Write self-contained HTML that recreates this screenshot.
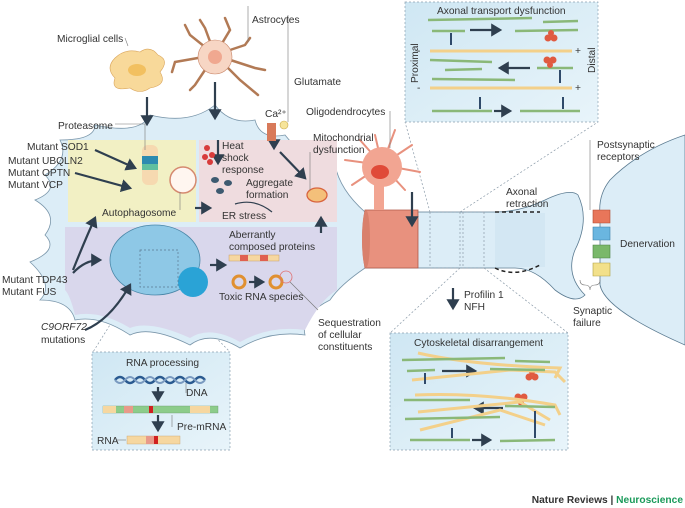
<!DOCTYPE html>
<html><head><meta charset="utf-8"><style>
body{margin:0;background:#fff}
svg{display:block}
text{font-family:"Liberation Sans",sans-serif;fill:#333;font-size:10.2px}
</style></head><body>
<svg width="685" height="508" viewBox="0 0 685 508">
<defs>
<marker id="ar" markerWidth="6" markerHeight="6" refX="4" refY="3" orient="auto" markerUnits="strokeWidth"><path d="M0,0 L5,3 L0,6 z" fill="#2f3f4f"/></marker>
<linearGradient id="bx" x1="0" y1="0" x2="1" y2="1"><stop offset="0" stop-color="#cfe7f3"/><stop offset="1" stop-color="#e8f4fa"/></linearGradient>
</defs>
<path d="M685,135 Q640,150 610,180 Q598,195 600,215 L600,285 Q605,310 685,345 Z" fill="#dcedf7" stroke="#5a7a90" stroke-width="0.8"/>
<rect x="360" y="212" width="200" height="56" fill="#dcedf7"/>
<line x1="360" y1="212" x2="495" y2="212" stroke="#5a7a90" stroke-width="0.8"/>
<line x1="360" y1="268" x2="495" y2="268" stroke="#5a7a90" stroke-width="0.8"/>
<path d="M495,212 Q520,212 545,200 Q570,188 578,195 Q590,220 575,250 Q565,275 585,295 Q575,305 555,290 Q535,268 515,268 L495,268" fill="#dcedf7" stroke="#5a7a90" stroke-width="0.8"/>
<rect x="495" y="213" width="50" height="54" fill="#d3e7f3"/>
<line x1="495" y1="212" x2="540" y2="212" stroke="#222" stroke-width="1.5" stroke-dasharray="4,3"/>
<path d="M495,268 Q515,278 540,265" fill="none" stroke="#222" stroke-width="1.5" stroke-dasharray="4,3"/>
<g stroke="#8a9aa8" stroke-width="0.7" stroke-dasharray="2,2" fill="none">
<line x1="430" y1="212" x2="430" y2="268"/><line x1="460" y1="212" x2="460" y2="268"/><line x1="463" y1="212" x2="463" y2="268"/><line x1="484" y1="212" x2="484" y2="268"/>
<line x1="430" y1="212" x2="484" y2="212"/><line x1="430" y1="268" x2="484" y2="268"/>
<line x1="430" y1="212" x2="405" y2="122"/><line x1="460" y1="212" x2="598" y2="122"/>
<line x1="460" y1="268" x2="390" y2="333"/><line x1="484" y1="268" x2="568" y2="333"/>
<line x1="135" y1="285" x2="93" y2="352"/><line x1="160" y1="280" x2="230" y2="352"/>
</g>
<path d="M365,212 Q340,190 335,165 Q300,155 285,135 Q260,140 255,120 Q230,125 215,105 Q190,125 150,115 Q140,135 95,125 Q95,140 60,140 Q70,160 45,175 Q60,190 35,200 Q60,215 45,235 Q60,250 30,262 Q55,285 40,300 Q70,300 75,320 Q100,315 130,335 Q150,325 190,345 Q210,330 240,348 Q270,330 305,335 Q300,315 330,300 Q340,285 365,268 Z" fill="#dcedf7" stroke="#7a96aa" stroke-width="0.8"/>
<rect x="68" y="140" width="128" height="82" fill="#f2f0c4"/>
<rect x="199" y="140" width="138" height="82" fill="#efdcdf"/>
<path d="M65,227 L337,227 L337,290 Q320,300 305,330 Q270,325 240,342 Q210,325 190,338 Q150,320 130,328 Q100,310 75,315 Q70,295 65,290 Z" fill="#d9d7ec"/>
<path d="M365,210 L418,210 L418,268 L365,268 Q360,240 365,210 Z" fill="#e8917e" stroke="#b05a48" stroke-width="0.8"/>
<ellipse cx="366" cy="239" rx="4" ry="29" fill="#d9806c"/>
<ellipse cx="155" cy="260" rx="45" ry="35" fill="#8ec8e6" stroke="#4a87a8" stroke-width="0.8"/>
<circle cx="193" cy="282" r="15" fill="#2aa3d6"/>
<rect x="140" y="250" width="38" height="37" fill="none" stroke="#5a7a90" stroke-width="0.7" stroke-dasharray="2,2"/>
<path d="M115,58 Q125,48 140,52 Q150,45 158,55 Q170,60 160,72 Q168,85 150,88 Q140,95 130,88 Q110,92 115,78 Q105,68 115,58 Z" fill="#f8d99a" stroke="#d9a45a" stroke-width="0.6"/>
<ellipse cx="137" cy="70" rx="9" ry="6" fill="#f2c060"/>
<g stroke="#b27a55" stroke-width="2.5" fill="none" stroke-linecap="round">
<path d="M215,55 L190,35 L185,25"/><path d="M215,55 L205,28 L200,20"/><path d="M215,55 L230,30 L225,18"/><path d="M215,55 L245,45 L250,38"/><path d="M215,55 L175,62 L172,72"/><path d="M215,55 L195,85 L190,90"/><path d="M215,55 L240,80 L258,95"/><path d="M215,55 L255,68 L265,70"/>
</g>
<circle cx="215" cy="57" r="17" fill="#f7d6c4" stroke="#c9876a" stroke-width="0.6"/>
<circle cx="215" cy="57" r="7" fill="#f0a890"/>
<g stroke="#e8917e" stroke-width="2" stroke-linecap="round">
<path d="M382,165 L360,140"/><path d="M382,165 L395,130"/><path d="M382,165 L412,145"/><path d="M382,165 L420,172"/><path d="M382,165 L405,190"/><path d="M382,165 L352,185"/><path d="M382,165 L345,160"/><path d="M382,165 L375,135"/>
</g>
<circle cx="382" cy="167" r="20" fill="#f2a592"/>
<ellipse cx="380" cy="172" rx="9" ry="7" fill="#e04a38"/>
<rect x="374" y="185" width="10" height="25" fill="#f2a592"/>
<g stroke="#2f3f4f" stroke-width="2.2" fill="none" marker-end="url(#ar)">
<line x1="147" y1="97" x2="147" y2="124"/><line x1="215" y1="82" x2="215" y2="118"/>
<line x1="95" y1="150" x2="135" y2="168"/><line x1="75" y1="173" x2="130" y2="188"/>
<line x1="218" y1="140" x2="218" y2="163"/><line x1="274" y1="125" x2="274" y2="148"/>
<line x1="280" y1="152" x2="305" y2="178"/><line x1="195" y1="208" x2="210" y2="208"/>
<line x1="321" y1="233" x2="321" y2="218"/><line x1="210" y1="265" x2="225" y2="265"/>
<path d="M73,273 Q85,260 100,260"/><path d="M73,270 Q85,240 95,218"/><path d="M85,330 Q110,320 130,285"/>
<line x1="412" y1="192" x2="412" y2="225"/><line x1="453" y1="288" x2="453" y2="308"/>
<line x1="249" y1="282" x2="263" y2="282"/>
</g>
<g><rect x="142" y="145" width="16" height="40" rx="6" fill="#f6d9b0"/><rect x="142" y="156" width="16" height="8" fill="#2c8ab0"/><rect x="142" y="164" width="16" height="6" fill="#5fbf9f"/></g>
<circle cx="183" cy="180" r="13" fill="#fff6f0" stroke="#d58a70" stroke-width="1.5"/>
<g fill="#d83b3b"><circle cx="207" cy="148" r="3"/><circle cx="212" cy="155" r="3"/><circle cx="205" cy="157" r="3"/><circle cx="210" cy="162" r="3"/></g>
<g fill="#3d5a70"><ellipse cx="215" cy="180" rx="4" ry="3"/><ellipse cx="228" cy="183" rx="4" ry="3"/><ellipse cx="220" cy="191" rx="4" ry="3"/></g>
<path d="M235,204 Q255,198 272,212" fill="none" stroke="#2f3f4f" stroke-width="1.2"/>
<rect x="267" y="123" width="9" height="18" fill="#d87a5a"/><circle cx="284" cy="125" r="4" fill="#f6e49a" stroke="#c9a94a" stroke-width="0.6"/>
<ellipse cx="317" cy="195" rx="10" ry="7" fill="#f4c07a" stroke="#d8643e" stroke-width="1.3"/>
<g><rect x="229" y="255" width="50" height="6" fill="#f6d7a0" stroke="#c9a06a" stroke-width="0.5"/><rect x="240" y="255" width="8" height="6" fill="#e06050"/><rect x="260" y="255" width="8" height="6" fill="#e06050"/></g>
<circle cx="239" cy="282" r="6" fill="none" stroke="#e09030" stroke-width="3"/><circle cx="276" cy="282" r="6" fill="none" stroke="#e09030" stroke-width="3"/><circle cx="286" cy="277" r="6" fill="none" stroke="#e07070" stroke-width="0.8"/>
<g stroke="#777" stroke-width="0.6" fill="none">
<path d="M115,124 L145,124 L145,150"/><path d="M125,38 L128,46"/><path d="M248,6 L248,42"/><path d="M288,15 L288,122"/><path d="M390,111 L390,148"/>
<path d="M310,152 L310,190"/><path d="M180,210 L180,192"/><path d="M290,282 L318,310"/><path d="M590,140 L590,210"/>
</g>
<g stroke-width="0.6"><path d="M593,210 h17 v13 h-17 z" fill="#e8765a" stroke="#b04a30"/><path d="M593,227 h17 v13 h-17 z" fill="#6ab6e0" stroke="#3a80a8"/><path d="M593,245 h17 v13 h-17 z" fill="#7ab86a" stroke="#4a8040"/><path d="M593,263 h17 v13 h-17 z" fill="#f2e08a" stroke="#b0a040"/></g>
<path d="M580,280 Q580,285 585,285 Q590,285 590,290 Q590,285 595,285 Q600,285 600,280" fill="none" stroke="#777" stroke-width="0.6"/>
<rect x="405" y="2" width="193" height="120" fill="url(#bx)" stroke="#8aa0b0" stroke-width="0.7" stroke-dasharray="2,2"/>
<rect x="390" y="333" width="178" height="117" fill="url(#bx)" stroke="#8aa0b0" stroke-width="0.7" stroke-dasharray="2,2"/>
<rect x="92" y="352" width="138" height="98" fill="url(#bx)" stroke="#8aa0b0" stroke-width="0.7" stroke-dasharray="2,2"/>
<g stroke-width="3">
<line x1="430" y1="51" x2="572" y2="51" stroke="#f3d08a"/><line x1="430" y1="88" x2="572" y2="88" stroke="#f3d08a"/>
</g>
<g stroke="#8ab878" stroke-width="2.5">
<line x1="428" y1="20" x2="532" y2="18"/><line x1="543" y1="22" x2="578" y2="21"/><line x1="432" y1="31" x2="465" y2="31"/><line x1="515" y1="31" x2="578" y2="30"/>
<line x1="430" y1="60" x2="492" y2="62"/><line x1="445" y1="70" x2="482" y2="69"/><line x1="537" y1="68" x2="573" y2="68"/><line x1="432" y1="79" x2="515" y2="80"/>
<line x1="432" y1="111" x2="492" y2="111"/><line x1="520" y1="111" x2="580" y2="111"/>
</g>
<g stroke="#2f3f4f" stroke-width="2.2" marker-end="url(#ar)"><line x1="470" y1="30" x2="500" y2="30"/><line x1="530" y1="68" x2="500" y2="68"/><line x1="494" y1="111" x2="510" y2="111"/><line x1="442" y1="371" x2="475" y2="371"/><line x1="503" y1="408" x2="475" y2="408"/><line x1="472" y1="440" x2="490" y2="440"/></g>
<g fill="#e05a40"><circle cx="548" cy="38" r="3.5"/><circle cx="554" cy="38" r="3.5"/><circle cx="551" cy="33" r="3"/><circle cx="547" cy="60" r="3.5"/><circle cx="553" cy="60" r="3.5"/><circle cx="550" cy="65" r="3"/><circle cx="529" cy="377" r="3.5"/><circle cx="535" cy="377" r="3.5"/><circle cx="532" cy="372" r="3"/><circle cx="518" cy="397" r="3.5"/><circle cx="524" cy="397" r="3.5"/><circle cx="521" cy="403" r="3"/></g>
<g stroke="#2f4a6a" stroke-width="2"><line x1="451" y1="33" x2="451" y2="45"/><line x1="560" y1="70" x2="560" y2="83"/><line x1="480" y1="97" x2="480" y2="109"/><line x1="563" y1="97" x2="563" y2="109"/></g>
<text x="417" y="54" font-size="9">-</text><text x="575" y="54" font-size="9">+</text><text x="417" y="91" font-size="9">-</text><text x="575" y="91" font-size="9">+</text>
<text transform="translate(418,83) rotate(-90)" font-size="10">Proximal</text>
<text transform="translate(595,73) rotate(-90)" font-size="10">Distal</text>
<g stroke="#f3d08a" stroke-width="3" fill="none">
<path d="M418,353 Q470,365 560,368 L555,378"/><path d="M412,380 L510,370 L555,372 L565,382"/><path d="M415,395 Q480,392 555,405 L560,415"/><path d="M418,412 L520,402 L550,420"/><path d="M420,430 L500,410 L545,425"/>
</g>
<g stroke="#8ab878" stroke-width="2.5"><line x1="402" y1="360" x2="505" y2="358"/><line x1="515" y1="361" x2="550" y2="362"/><line x1="407" y1="371" x2="435" y2="370"/><line x1="490" y1="369" x2="545" y2="370"/><line x1="404" y1="400" x2="470" y2="400"/><line x1="505" y1="406" x2="555" y2="407"/><line x1="405" y1="419" x2="500" y2="417"/><line x1="410" y1="440" x2="470" y2="440"/><line x1="500" y1="441" x2="555" y2="440"/></g>
<g stroke="#2f4a6a" stroke-width="2"><line x1="425" y1="373" x2="425" y2="384"/><line x1="535" y1="411" x2="535" y2="438"/><line x1="452" y1="428" x2="452" y2="438"/></g>
<path d="M115,380 q5,-6 10,0 t10,0 t10,0 t10,0 t10,0 t10,0 t10,0 t10,0 t10,0" fill="none" stroke="#2a5a90" stroke-width="2.5"/>
<path d="M115,380 q5,6 10,0 t10,0 t10,0 t10,0 t10,0 t10,0 t10,0 t10,0 t10,0" fill="none" stroke="#7a9ac0" stroke-width="2"/>
<rect x="103" y="406" width="115" height="7" fill="#8ccc8a" stroke="#6a9a6a" stroke-width="0.4"/><rect x="103" y="406" width="13" height="7" fill="#f6d7a0"/><rect x="124" y="406" width="9" height="7" fill="#e89a8a"/><rect x="149" y="406" width="4" height="7" fill="#d02020"/><rect x="190" y="406" width="20" height="7" fill="#f6d7a0"/>
<rect x="127" y="436" width="53" height="8" fill="#f6d7a0" stroke="#c9a06a" stroke-width="0.4"/><rect x="146" y="436" width="9" height="8" fill="#e89a8a"/><rect x="154" y="436" width="4" height="8" fill="#d02020"/>
<g stroke="#2f3f4f" stroke-width="2.2" marker-end="url(#ar)"><line x1="158" y1="387" x2="158" y2="400"/><line x1="158" y1="415" x2="158" y2="430"/></g>
<g stroke="#777" stroke-width="0.6" fill="none"><path d="M186,383 L186,393"/><path d="M172,415 L172,427"/><path d="M117,440 L126,440"/></g>
<text x="57" y="42">Microglial cells</text>
<text x="252" y="23">Astrocytes</text>
<text x="294" y="85">Glutamate</text>
<text x="265" y="117" font-size="9.5">Ca²⁺</text>
<text x="306" y="115">Oligodendrocytes</text>
<text x="313" y="141">Mitochondrial</text><text x="313" y="153">dysfunction</text>
<text x="58" y="129">Proteasome</text>
<text x="27" y="150">Mutant SOD1</text>
<text x="8" y="164">Mutant UBQLN2</text><text x="8" y="176">Mutant OPTN</text><text x="8" y="188">Mutant VCP</text>
<text x="222" y="149">Heat</text><text x="222" y="161">shock</text><text x="222" y="173">response</text>
<text x="246" y="186">Aggregate</text><text x="246" y="198">formation</text>
<text x="102" y="216">Autophagosome</text>
<text x="222" y="219">ER stress</text>
<text x="229" y="238">Aberrantly</text><text x="229" y="250">composed proteins</text>
<text x="219" y="300">Toxic RNA species</text>
<text x="2" y="283">Mutant TDP43</text><text x="2" y="295">Mutant FUS</text>
<text x="41" y="330" font-style="italic">C9ORF72</text><text x="41" y="343">mutations</text>
<text x="318" y="326">Sequestration</text><text x="318" y="338">of cellular</text><text x="318" y="350">constituents</text>
<text x="126" y="366">RNA processing</text>
<text x="186" y="396">DNA</text><text x="177" y="430">Pre-mRNA</text><text x="97" y="444">RNA</text>
<text x="437" y="14">Axonal transport dysfunction</text>
<text x="506" y="195">Axonal</text><text x="506" y="207">retraction</text>
<text x="597" y="148">Postsynaptic</text><text x="597" y="160">receptors</text>
<text x="620" y="247">Denervation</text>
<text x="573" y="314">Synaptic</text><text x="573" y="326">failure</text>
<text x="464" y="298">Profilin 1</text><text x="464" y="310">NFH</text>
<text x="414" y="346">Cytoskeletal disarrangement</text>
<text x="683" y="503" text-anchor="end" font-weight="bold" font-size="9.5">Nature Reviews | <tspan fill="#1a9a5a">Neuroscience</tspan></text>
</svg>
</body></html>
